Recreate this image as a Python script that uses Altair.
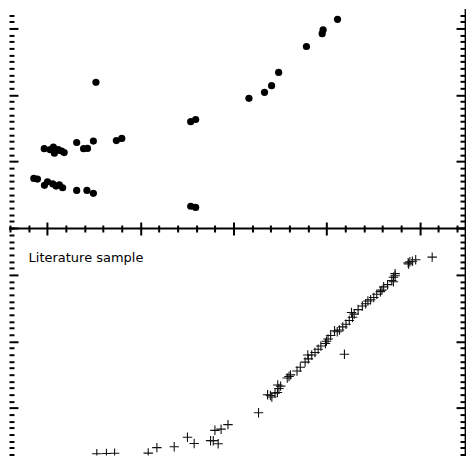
import altair as alt
import pandas as pd

# ---------------- data ----------------
# top panel: filled circles
top_x = [-0.032, 0.032, 0.066, 0.092, 0.077, 0.119, 0.155, 0.182, 0.316, 0.390,
         0.432, 0.495, 0.523, 0.742, 0.800, 1.540, 1.593, 2.165, 2.332, 2.408,
         2.484, 2.782, 2.951, 2.961, 3.116, 3.337,
         -0.144, -0.105, -0.030, 0.003, 0.060, 0.095, 0.130, 0.165, 0.316, 0.426,
         0.495, 1.540, 1.593]
top_y = [1.192, 1.177, 1.215, 1.157, 1.124, 1.177, 1.157, 1.134, 1.285, 1.193,
         1.196, 1.307, 2.190, 1.314, 1.346, 1.599, 1.631, 1.950, 2.039, 2.140,
         2.339, 2.728, 2.921, 2.978, 3.137, 3.429,
         0.746, 0.735, 0.641, 0.695, 0.663, 0.630, 0.648, 0.605, 0.565, 0.565,
         0.522, 0.327, 0.310]

# bottom panel: literature sample (plus symbols)
bot_x = [0.532, 0.635, 0.723, 1.084, 1.177, 1.363, 1.505, 1.577, 1.753, 1.782,
         1.835, 1.800, 1.866, 1.940, 2.268, 2.365, 2.395, 2.411, 2.445, 2.471,
         2.487, 2.505, 2.474, 2.576, 2.595, 2.611, 2.681, 2.768, 2.803, 2.797,
         2.839, 2.874, 2.908, 2.986, 3.014, 2.997, 3.084, 3.113, 3.137, 3.172,
         3.207, 3.242, 3.277, 3.295, 3.266, 3.190, 3.382, 3.418, 3.471, 3.505,
         3.576, 3.593, 3.611, 3.698, 3.716, 3.734, 3.716, 3.874, 3.892, 3.919,
         3.955, 4.132, 2.716, 2.937, 3.042, 3.337, 3.442, 3.537, 3.653, 3.734,
         3.879]
bot_y = [-0.688, -0.685, -0.681, -0.678, -0.596, -0.582, -0.440, -0.534, -0.491, -0.491,
         -0.537, -0.336, -0.318, -0.250, -0.072, 0.198, 0.188, 0.166, 0.224, 0.234,
         0.292, 0.329, 0.346, 0.450, 0.473, 0.498, 0.556, 0.690, 0.739, 0.797,
         0.797, 0.834, 0.883, 0.970, 1.036, 1.003, 1.162, 1.147, 1.172, 1.219,
         1.258, 1.316, 1.364, 1.411, 1.436, 0.808, 1.533, 1.566, 1.628, 1.662,
         1.749, 1.772, 1.821, 1.916, 1.965, 1.989, 1.898, 2.182, 2.198, 2.205,
         2.229, 2.268, 0.613, 0.931, 1.090, 1.479, 1.609, 1.710, 1.854, 2.020,
         2.165]

label_text = ["Literature sample"]
label_x = [-0.2]
label_y = [2.20]

# axis domains and ticks (major ticks at whole numbers, minor in between)
X_DOMAIN = [-0.4105, 4.4842]
TOP_Y_DOMAIN = [0.0, 3.2997]
BOT_Y_DOMAIN = [-0.7143, 2.7056]
x_ticks = [v / 10 for v in range(-4, 45, 2)]
top_y_ticks = [v / 10 for v in range(0, 33)]
bot_y_ticks = [v / 10 for v in range(-7, 28)]

# ---------------- chart ----------------
W, HT, HB = 457, 220, 228

top_df = pd.DataFrame({"x": top_x, "y": top_y})
bot_df = pd.DataFrame({"x": bot_x, "y": bot_y})
lab_df = pd.DataFrame({"x": label_x, "y": label_y, "t": label_text})

xs = alt.Scale(domain=X_DOMAIN, nice=False, zero=False)
yts = alt.Scale(domain=TOP_Y_DOMAIN, nice=False, zero=False)
ybs = alt.Scale(domain=BOT_Y_DOMAIN, nice=False, zero=False)

MAJOR = "abs(datum.value - round(datum.value)) < 0.001"


def ax(orient, offset, values, big, small, domain=False):
    kw = dict(orient=orient, offset=offset, values=values, tickCount=500,
              tickSize={"condition": {"test": MAJOR, "value": big}, "value": small},
              tickWidth=2, tickColor="black", labels=False, title=None,
              grid=False, domain=domain, ticks=True)
    if domain:
        kw.update(domainColor="black", domainWidth=1.8)
    return alt.Axis(**kw)


def lay(mark, xaxis, yaxis, yscale):
    return mark.encode(
        x=alt.X("x:Q", scale=xs, axis=xaxis),
        y=alt.Y("y:Q", scale=yscale, axis=yaxis),
    )


ghost = dict(opacity=0, clip=True)

# top panel: circles + inward ticks on left, right and bottom edges
t1 = lay(alt.Chart(top_df).mark_circle(size=52, color="black", opacity=1, clip=True),
         ax("top", -HT, x_ticks, 6, 3, domain=True), ax("right", -W, top_y_ticks, 9, 5), yts)
t2 = lay(alt.Chart(top_df).mark_point(**ghost),
         None, ax("left", -W, top_y_ticks, 9, 5, domain=True), yts)
top = alt.layer(t1, t2).resolve_axis(x="independent", y="independent").properties(width=W, height=HT)

# bottom panel: plus symbols + label
plus = "M-1,0L1,0M0,-1L0,1"
b1 = lay(alt.Chart(bot_df).mark_point(shape=plus, filled=False, size=90, strokeWidth=1.1,
                                       color="#111111", opacity=1, clip=True),
         ax("bottom", -HB, x_ticks, 7, 4), ax("right", -W, bot_y_ticks, 9, 5), ybs)
b2 = lay(alt.Chart(bot_df).mark_point(**ghost),
         None, ax("left", -W, bot_y_ticks, 9, 5, domain=True), ybs)
b3 = alt.Chart(lab_df).mark_text(align="left", baseline="alphabetic", font="DejaVu Sans",
                                 fontSize=13, color="black", clip=True).encode(
    x=alt.X("x:Q", scale=xs, axis=None),
    y=alt.Y("y:Q", scale=ybs, axis=None),
    text="t:N",
)
bot = alt.layer(b1, b2, b3).resolve_axis(x="independent", y="independent").properties(width=W, height=HB)

chart = alt.vconcat(top, bot, spacing=0, bounds="flush").properties(
    padding=0).configure_view(strokeWidth=0)

chart.save("out.html", embed_options={"renderer": "svg", "actions": False})
